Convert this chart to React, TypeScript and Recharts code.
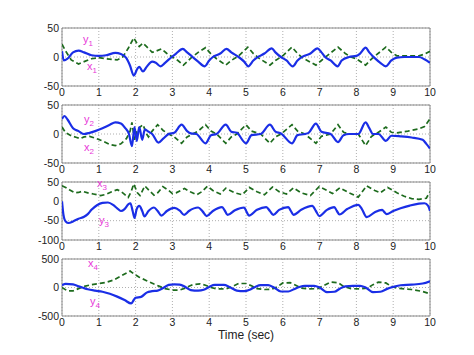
import React from "react";
import { LineChart, Line, XAxis, YAxis, CartesianGrid, ReferenceArea } from "recharts";

// time ticks shared by all four panels
const timeTicks = [0, 1, 2, 3, 4, 5, 6, 7, 8, 9, 10];

// [time, value] pairs
const y1 = [[0,10],[0.05,-6],[0.15,-3],[0.3,8],[0.45,11],[0.6,8],[0.8,3],[1.0,2],[1.2,3],[1.45,7],[1.6,5],[1.75,-2],[1.85,-15],[1.95,-32],[2.05,-20],[2.1,-17],[2.2,-25],[2.3,-17],[2.45,-8],[2.55,-10],[2.68,-16],[2.8,-10],[2.98,0],[3.1,6],[3.28,14],[3.4,8],[3.55,0],[3.7,-8],[3.88,-16],[4.0,-6],[4.1,0],[4.3,6],[4.47,14],[4.6,8],[4.8,0],[4.95,-8],[5.06,-16],[5.2,-6],[5.35,1],[5.5,6],[5.7,15],[5.8,8],[5.95,0],[6.1,-6],[6.27,-16],[6.4,-6],[6.55,1],[6.75,6],[6.94,15],[7.05,8],[7.15,0],[7.3,-6],[7.49,-16],[7.6,-6],[7.8,0],[8.0,2],[8.1,6],[8.25,16],[8.35,8],[8.5,-2],[8.65,-10],[8.8,-16],[8.95,-6],[9.1,-1],[9.3,0],[9.7,0],[9.85,-4],[10,-10]];
const x1 = [[0,22],[0.1,10],[0.25,-5],[0.45,-12],[0.6,-8],[0.8,-3],[1.0,-1],[1.2,-3],[1.5,-5],[1.65,0],[1.8,15],[1.95,33],[2.05,22],[2.1,18],[2.2,24],[2.3,18],[2.45,8],[2.55,10],[2.7,14],[2.85,6],[3.0,0],[3.15,-6],[3.3,-14],[3.5,-2],[3.7,8],[3.9,16],[4.05,5],[4.2,-3],[4.45,-14],[4.6,-6],[4.8,2],[5.05,17],[5.2,6],[5.35,-2],[5.65,-14],[5.8,-6],[6.0,2],[6.25,17],[6.4,6],[6.55,-2],[6.9,-14],[7.05,-6],[7.2,2],[7.5,17],[7.7,6],[7.85,0],[8.0,-3],[8.25,-14],[8.4,-4],[8.55,4],[8.8,17],[8.95,8],[9.1,2],[9.7,2],[9.85,5],[10,10]];

const y2 = [[0,26],[0.07,31],[0.15,25],[0.3,10],[0.45,5],[0.6,0],[0.75,2],[0.9,5],[1.1,10],[1.3,16],[1.45,20],[1.6,18],[1.72,10],[1.82,0],[1.9,-21],[1.97,12],[2.03,-12],[2.1,12],[2.18,-10],[2.25,8],[2.35,4],[2.45,0],[2.62,-15],[2.75,-8],[2.9,0],[3.05,2],[3.25,16],[3.4,5],[3.5,1],[3.65,0],[3.9,-16],[4.05,-2],[4.2,0],[4.45,16],[4.6,4],[4.75,2],[5.0,-16],[5.15,-2],[5.4,0],[5.65,16],[5.8,4],[5.95,1],[6.25,-16],[6.4,-2],[6.6,0],[6.7,2],[6.9,18],[7.05,4],[7.3,0],[7.5,-14],[7.65,-2],[7.8,0],[8.05,0],[8.25,20],[8.35,10],[8.45,0],[8.6,0],[8.8,-12],[8.95,-3],[9.2,-4],[9.5,-6],[9.8,-10],[9.9,-17],[10,-25]];
const x2 = [[0,12],[0.1,2],[0.25,-3],[0.4,-6],[0.5,-8],[0.6,-5],[0.75,-4],[0.9,-7],[1.1,-12],[1.3,-18],[1.45,-20],[1.6,-17],[1.75,-8],[1.85,5],[1.9,20],[1.97,-10],[2.05,8],[2.2,16],[2.3,0],[2.35,-5],[2.45,5],[2.6,16],[2.75,6],[2.9,0],[3.05,-5],[3.25,-16],[3.4,-5],[3.55,0],[3.7,5],[3.9,16],[4.05,5],[4.2,0],[4.45,-16],[4.6,-5],[4.75,0],[5.0,16],[5.15,5],[5.4,0],[5.65,-16],[5.8,-5],[5.95,0],[6.25,16],[6.4,5],[6.6,0],[6.9,-16],[7.05,-4],[7.3,0],[7.5,16],[7.65,3],[7.8,0],[8.05,0],[8.25,-20],[8.4,-5],[8.5,0],[8.6,3],[8.8,12],[8.95,3],[9.1,2],[9.4,5],[9.7,9],[9.85,13],[10,26]];

const y3 = [[0,0],[0.04,-35],[0.1,-52],[0.18,-56],[0.3,-52],[0.45,-45],[0.6,-40],[0.7,-33],[0.8,-22],[0.95,-10],[1.1,-4],[1.25,-3],[1.4,-10],[1.5,-18],[1.6,-25],[1.7,-20],[1.8,-8],[1.86,-5],[1.92,-25],[1.97,-43],[2.03,-20],[2.1,-12],[2.18,-25],[2.24,-39],[2.35,-25],[2.5,-16],[2.6,-25],[2.7,-37],[2.85,-25],[3.05,-17],[3.2,-24],[3.32,-35],[3.45,-25],[3.7,-16],[3.82,-26],[3.93,-38],[4.1,-25],[4.35,-15],[4.43,-25],[4.5,-35],[4.7,-23],[4.95,-16],[5.02,-28],[5.08,-37],[5.3,-22],[5.55,-15],[5.65,-25],[5.74,-35],[5.9,-22],[6.15,-15],[6.22,-25],[6.29,-35],[6.5,-22],[6.8,-12],[6.9,-25],[6.99,-38],[7.2,-22],[7.4,-15],[7.47,-25],[7.54,-34],[7.75,-20],[8.05,-9],[8.15,-20],[8.28,-41],[8.5,-28],[8.7,-22],[8.76,-28],[8.82,-33],[9.0,-25],[9.2,-18],[9.45,-11],[9.7,-6],[9.85,-5],[9.95,-12],[10,-25]];
const x3 = [[0,40],[0.1,36],[0.2,30],[0.35,22],[0.45,23],[0.55,26],[0.7,22],[0.85,19],[1.05,15],[1.2,18],[1.35,25],[1.5,30],[1.6,26],[1.7,18],[1.8,10],[1.88,25],[1.95,45],[2.05,22],[2.12,15],[2.25,40],[2.4,25],[2.5,16],[2.6,22],[2.74,38],[2.9,28],[3.0,20],[3.1,22],[3.33,33],[3.5,24],[3.66,17],[3.8,25],[3.95,39],[4.1,28],[4.3,19],[4.45,34],[4.7,22],[4.9,17],[5.09,36],[5.3,25],[5.5,17],[5.72,37],[5.9,25],[6.1,19],[6.29,35],[6.5,22],[6.75,15],[6.99,38],[7.2,28],[7.35,20],[7.55,35],[7.8,22],[8.05,11],[8.28,40],[8.5,28],[8.65,22],[8.85,36],[9.1,22],[9.3,13],[9.5,7],[9.7,5],[9.9,8],[10,25]];

const y4 = [[0,40],[0.1,65],[0.3,55],[0.45,20],[0.55,0],[0.7,-30],[0.9,-55],[1.1,-75],[1.3,-110],[1.5,-160],[1.7,-220],[1.88,-280],[1.95,-220],[2.0,-180],[2.15,-165],[2.3,-90],[2.45,-65],[2.6,-55],[2.75,-10],[2.9,45],[3.05,55],[3.2,50],[3.35,10],[3.5,-45],[3.7,-55],[3.85,-40],[4.0,10],[4.15,45],[4.4,45],[4.55,10],[4.75,-55],[4.95,-65],[5.1,-40],[5.25,10],[5.4,40],[5.6,40],[5.75,5],[5.95,-70],[6.15,-70],[6.3,-30],[6.45,10],[6.6,30],[6.85,30],[7.0,0],[7.2,-80],[7.4,-75],[7.55,-20],[7.7,20],[7.9,30],[8.1,30],[8.25,0],[8.45,-80],[8.65,-75],[8.85,-20],[9.0,10],[9.2,40],[9.5,50],[9.8,70],[10,110]];
const x4 = [[0,0],[0.15,-60],[0.3,-60],[0.45,-20],[0.6,20],[0.8,50],[1.0,70],[1.2,90],[1.4,130],[1.6,200],[1.85,290],[1.95,240],[2.1,180],[2.3,120],[2.5,60],[2.65,20],[2.8,-20],[3.0,-45],[3.2,-45],[3.35,-10],[3.55,50],[3.75,65],[3.9,40],[4.05,0],[4.2,-25],[4.45,-25],[4.6,10],[4.8,70],[5.0,70],[5.15,30],[5.3,-20],[5.5,-35],[5.7,-30],[5.85,10],[6.0,80],[6.2,85],[6.35,40],[6.5,-10],[6.7,-25],[6.95,-20],[7.1,30],[7.3,95],[7.5,85],[7.65,20],[7.85,-20],[8.1,-25],[8.3,-10],[8.45,50],[8.6,95],[8.8,80],[8.95,20],[9.1,-10],[9.5,-35],[9.8,-70],[10,-110]];

const BLUE = "#1a2ee6";
const GREEN = "#1d6b1d";
const MAGENTA = "#e838d8";
const FONT = "'Liberation Sans', Arial, sans-serif";

const toPts = (a: number[][]) => a.map(([t, v]) => ({ t, v }));

const panels = [
  { id: 1, blue: y1, green: x1, domain: [-50, 50], ticks: [-50, 0, 50], top: 28, height: 58,
    labels: [{ n: "y", i: 1, left: 83, top: 33 }, { n: "x", i: 1, left: 87, top: 60 }] },
  { id: 2, blue: y2, green: x2, domain: [-50, 50], ticks: [-50, 0, 50], top: 105, height: 58,
    labels: [{ n: "y", i: 2, left: 84, top: 113 }, { n: "x", i: 2, left: 84, top: 141 }] },
  { id: 3, blue: y3, green: x3, domain: [-100, 50], ticks: [-100, -50, 0, 50], top: 182, height: 58,
    labels: [{ n: "x", i: 3, left: 97, top: 177 }, { n: "y", i: 3, left: 99, top: 214 }] },
  { id: 4, blue: y4, green: x4, domain: [-500, 500], ticks: [-500, 0, 500], top: 259, height: 57,
    labels: [{ n: "x", i: 4, left: 88, top: 257 }, { n: "y", i: 4, left: 90, top: 295 }] },
];

const tickStyle = { fontSize: 10.5, fill: "#222", fontFamily: FONT };

function Panel({ p }: { p: (typeof panels)[number] }) {
  const padTop = 8;
  const axisH = 20;
  return (
    <div style={{ position: "absolute", left: 0, top: p.top - padTop }}>
      <LineChart
        width={474}
        height={p.height + padTop + axisH}
        margin={{ top: padTop, right: 44, bottom: 0, left: 32 }}
      >
        <CartesianGrid stroke="#9a9a9a" strokeDasharray="1 2" strokeWidth={0.8} />
        <XAxis
          type="number"
          dataKey="t"
          domain={[0, 10]}
          ticks={timeTicks}
          allowDataOverflow
          height={axisH}
          tickSize={0}
          tickMargin={3}
          axisLine={false}
          tick={tickStyle}
        />
        <YAxis
          type="number"
          domain={p.domain}
          ticks={p.ticks}
          allowDataOverflow
          width={30}
          tickSize={0}
          tickMargin={3}
          axisLine={false}
          tick={tickStyle}
        />
        <ReferenceArea
          x1={0}
          x2={10}
          y1={p.domain[0]}
          y2={p.domain[1]}
          fill="none"
          fillOpacity={0}
          stroke="#8a8a8a"
          strokeWidth={1}
        />
        <Line
          data={toPts(p.green)}
          dataKey="v"
          type="linear"
          stroke={GREEN}
          strokeWidth={1.7}
          strokeDasharray="5 3"
          dot={false}
          isAnimationActive={false}
        />
        <Line
          data={toPts(p.blue)}
          dataKey="v"
          type="monotone"
          stroke={BLUE}
          strokeWidth={2.2}
          dot={false}
          isAnimationActive={false}
        />
      </LineChart>
      {p.labels.map((l) => (
        <div
          key={l.n + l.i}
          style={{
            position: "absolute",
            left: l.left,
            top: l.top - (p.top - padTop),
            color: MAGENTA,
            fontFamily: FONT,
            fontSize: 11,
            lineHeight: "12px",
          }}
        >
          {l.n}
          <span style={{ fontSize: 8, position: "relative", top: 3 }}>{l.i}</span>
        </div>
      ))}
    </div>
  );
}

export default function App() {
  return (
    <div style={{ position: "absolute", left: 0, top: 0, width: 474, height: 355, background: "#fff" }}>
      {panels.map((p) => (
        <Panel key={p.id} p={p} />
      ))}
      <div
        style={{
          position: "absolute",
          left: 0,
          width: 492,
          top: 328,
          textAlign: "center",
          fontFamily: FONT,
          fontSize: 12,
          color: "#222",
        }}
      >
        Time (sec)
      </div>
    </div>
  );
}
